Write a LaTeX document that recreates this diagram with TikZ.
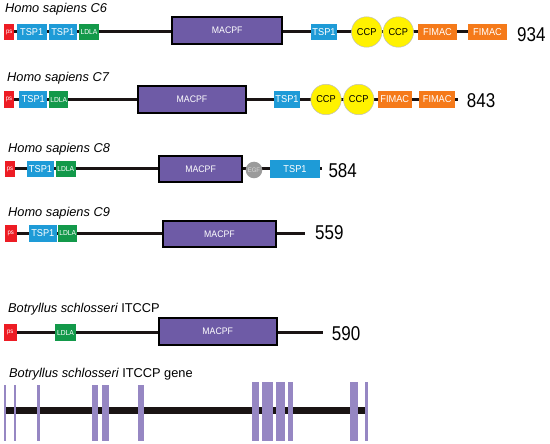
\documentclass[tikz,border=0pt]{standalone}
\usepackage{fontspec}
\setmainfont{Liberation Sans}
\newfontfamily\numfont[FakeStretch=0.85]{Liberation Sans}
\newfontfamily\boxfont[FakeStretch=0.92]{Liberation Sans}
\usetikzlibrary{backgrounds}
\definecolor{psred}{HTML}{ED1C24}
\definecolor{tspblue}{HTML}{1E9BD7}
\definecolor{ldlagreen}{HTML}{13994A}
\definecolor{macpurple}{HTML}{6E5BA6}
\definecolor{ccpyellow}{HTML}{FFF200}
\definecolor{fimacorange}{HTML}{F57A1A}
\definecolor{egfgray}{HTML}{9B9B9B}
\definecolor{exon}{HTML}{9687C3}
\definecolor{bb}{HTML}{1A1414}
\tikzset{
  dom/.style={rectangle, inner sep=0, minimum height=16.5, text=white, font=\boxfont\fontsize{10}{10}\selectfont},
  psbox/.style={dom, fill=psred, font=\boxfont\fontsize{6.5}{6.5}\selectfont},
  tspbox/.style={dom, fill=tspblue},
  ldlabox/.style={dom, fill=ldlagreen, font=\boxfont\fontsize{7.3}{7.3}\selectfont},
  fimacbox/.style={dom, fill=fimacorange, font=\boxfont\fontsize{10}{10}\selectfont},
  macbox/.style={rectangle, draw=black, line width=2, fill=macpurple, inner sep=0, minimum height=26.3, text=white, font=\boxfont\fontsize{9.5}{9.5}\selectfont},
  ccpbox/.style={circle, fill=ccpyellow, draw=black!25, line width=0.5, minimum size=30.5, inner sep=0, text=black, font=\boxfont\fontsize{10}{10}\selectfont},
  egfbox/.style={circle, fill=egfgray, minimum size=16.6, inner sep=0, text=white!85!black, font=\boxfont\fontsize{6.5}{6.5}\selectfont},
  title/.style={anchor=base west, inner sep=0, font=\fontsize{12.8}{12.8}\selectfont},
  num/.style={anchor=west, inner sep=0, font=\numfont\fontsize{20}{20}\selectfont},
  backbone/.style={draw=bb, line width=3},
  exonbar/.style={fill=exon},
}
\begin{document}
\begin{tikzpicture}[x=1pt,y=-1pt]
\useasboundingbox (0,0) rectangle (550,444);

% ---------- C6 ----------
\node[title] (t6) at (5,12.5) {\itshape Homo sapiens C6};
\node[psbox, minimum width=10.3] (c6ps) at (9.2,32) {ps};
\node[tspbox, minimum width=30] (c6t1) at (31.7,32) {TSP1};
\node[tspbox, minimum width=27.7] (c6t2) at (62.8,32) {TSP1};
\node[ldlabox, minimum width=20] (c6l) at (89,32) {LDLA};
\node[macbox, minimum width=110.3] (c6m) at (227.2,30.5) {MACPF};
\node[tspbox, minimum width=26.6] (c6t3) at (324,32) {TSP1};
\node[ccpbox] (c6c1) at (366.7,32) {CCP};
\node[ccpbox] (c6c2) at (398.3,32) {CCP};
\node[fimacbox, minimum width=38.4] (c6f1) at (437.5,32) {FIMAC};
\node[fimacbox, minimum width=39] (c6f2) at (487.5,32) {FIMAC};
\node[num] (n6) at (517,34.2) {934};
\begin{scope}[on background layer]
\draw[backbone] (c6ps.center) -- (c6f2.center);
\end{scope}

% ---------- C7 ----------
\node[title] (t7) at (7,81.7) {\itshape Homo sapiens C7};
\node[psbox, minimum width=10] (c7ps) at (9,99.5) {ps};
\node[tspbox, minimum width=28] (c7t1) at (33.3,99.5) {TSP1};
\node[ldlabox, minimum width=19.3] (c7l) at (58.7,99.5) {LDLA};
\node[macbox, minimum width=108.6] (c7m) at (192,99.5) {MACPF};
\node[tspbox, minimum width=26] (c7t2) at (287,99.5) {TSP1};
\node[ccpbox] (c7c1) at (326,99.5) {CCP};
\node[ccpbox] (c7c2) at (358.7,99.5) {CCP};
\node[fimacbox, minimum width=33.7] (c7f1) at (394.8,99.5) {FIMAC};
\node[fimacbox, minimum width=35.7] (c7f2) at (437.2,99.5) {FIMAC};
\coordinate (c7end) at (457.7,99.5);
\node[num] (n7) at (466.7,101) {843};
\begin{scope}[on background layer]
\draw[backbone] (c7ps.center) -- (c7end);
\end{scope}

% ---------- C8 ----------
\node[title] (t8) at (8,152.3) {\itshape Homo sapiens C8};
\node[psbox, minimum width=10] (c8ps) at (10,169) {ps};
\node[tspbox, minimum width=27] (c8t1) at (40.5,169) {TSP1};
\node[ldlabox, minimum width=20.3] (c8l) at (65.8,169) {LDLA};
\node[macbox, minimum width=82.7] (c8m) at (200.6,168.8) {MACPF};
\node[egfbox] (c8e) at (254,170) {EGF};
\node[tspbox, minimum width=50, minimum height=17.5] (c8t2) at (295,169) {TSP1};
\coordinate (c8end) at (321.7,169);
\node[num] (n8) at (328.3,171) {584};
\begin{scope}[on background layer]
\draw[backbone] (c8ps.center) -- (c8end);
\end{scope}

% ---------- C9 ----------
\node[title] (t9) at (8,217) {\itshape Homo sapiens C9};
\node[psbox, minimum width=11.7] (c9ps) at (10.8,233.3) {ps};
\node[tspbox, minimum width=27.7] (c9t1) at (42.8,233.3) {TSP1};
\node[ldlabox, minimum width=19] (c9l) at (67.8,233.3) {LDLA};
\node[macbox, minimum width=112.4] (c9m) at (219.5,234) {MACPF};
\coordinate (c9end) at (305,233.3);
\node[num] (n9) at (315,232.8) {559};
\begin{scope}[on background layer]
\draw[backbone] (c9ps.center) -- (c9end);
\end{scope}

% ---------- ITCCP ----------
\node[title] (tb) at (8,312.5) {\itshape Botryllus schlosseri\upshape\ ITCCP};
\node[psbox, minimum width=12.7, minimum height=17.5] (bps) at (10.3,332.5) {ps};
\node[ldlabox, minimum width=21] (bl) at (65.5,332.5) {LDLA};
\node[macbox, minimum width=118] (bm) at (217.7,331.5) {MACPF};
\coordinate (bend) at (322.7,332.5);
\node[num] (nb) at (331.7,333.5) {590};
\begin{scope}[on background layer]
\draw[backbone] (bps.center) -- (bend);
\end{scope}

% ---------- gene ----------
\node[title] (tg) at (9,377) {\itshape Botryllus schlosseri\upshape\ ITCCP gene};
\fill[bb] (6,407.3) rectangle (366,414.3);
\foreach \a/\b in {3.5/6.3, 14/16, 36.7/40.3, 91.7/98.3, 102/109, 138.3/144}
  \fill[exonbar] (\a,385) rectangle (\b,441);
\foreach \a/\b in {252.3/259.3, 262.3/273.3, 276.3/285, 287.7/293, 350/357.7, 364.5/368}
  \fill[exonbar] (\a,382) rectangle (\b,441);
\end{tikzpicture}
\end{document}
